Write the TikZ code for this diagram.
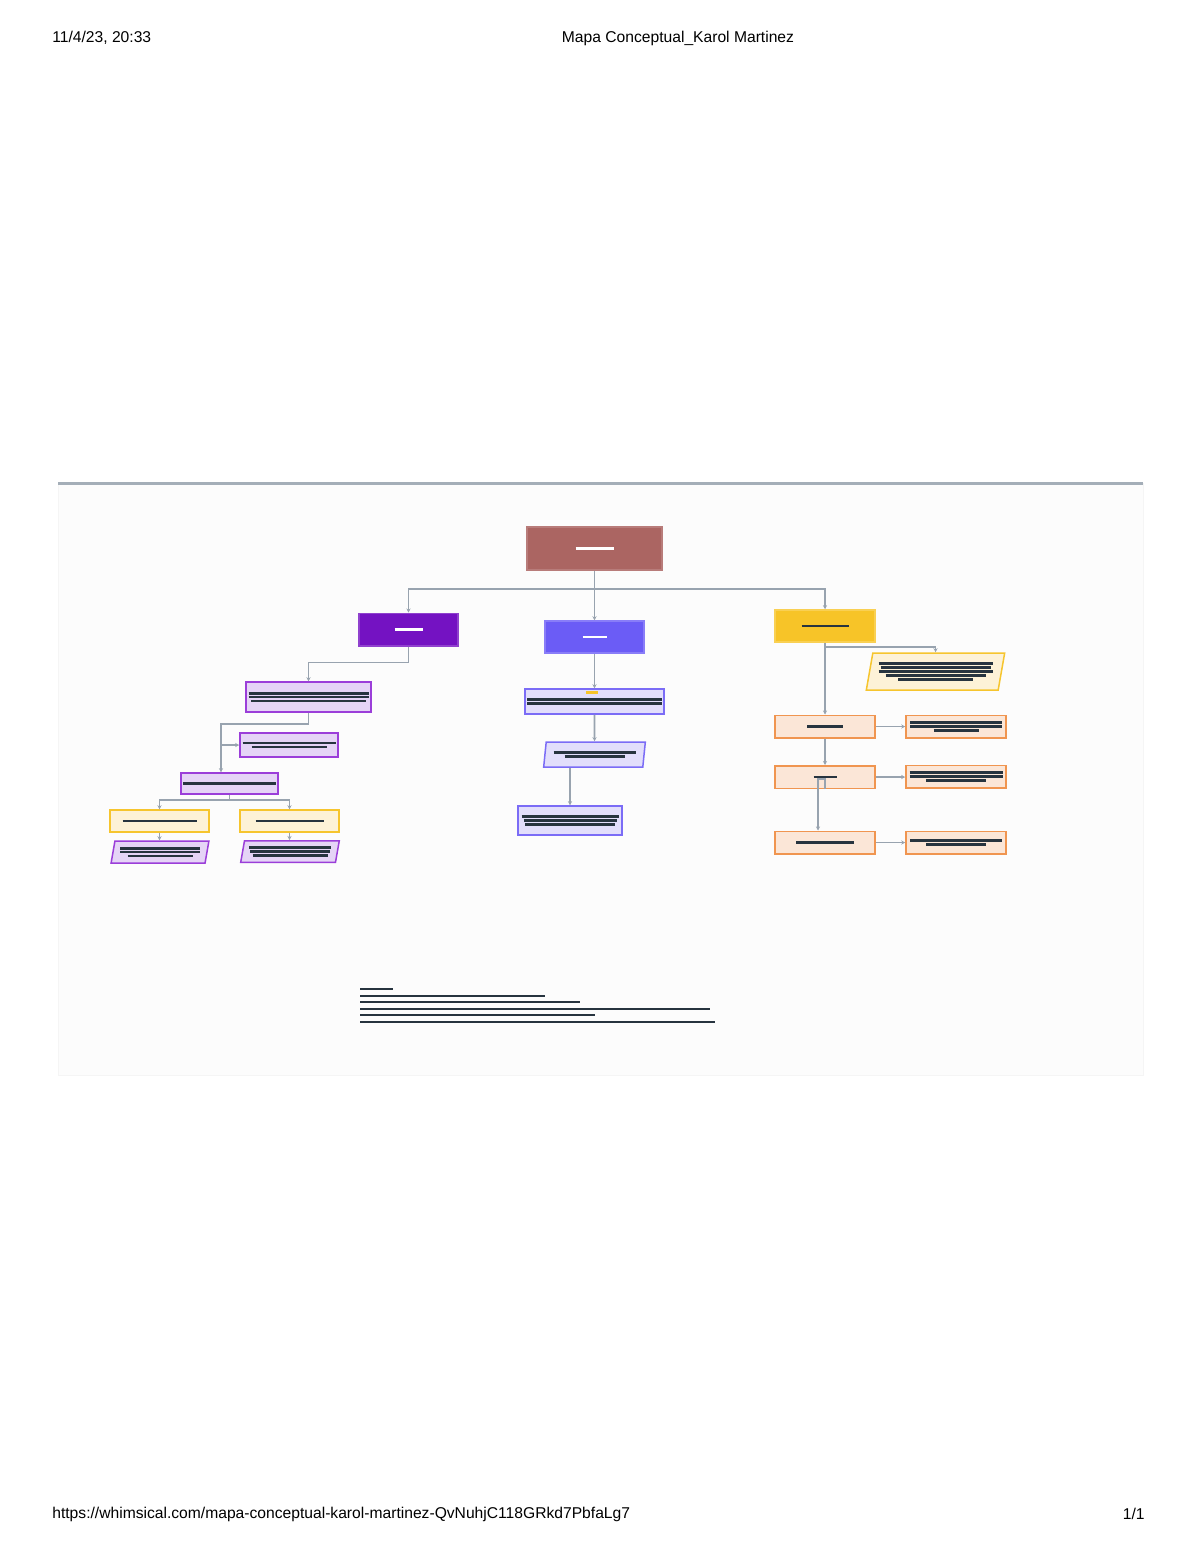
\documentclass[tikz,border=0pt]{standalone}
\usepackage{fontspec}
\setmainfont{Liberation Sans}
\usetikzlibrary{shapes.geometric,arrows.meta}

\definecolor{rootred}{HTML}{AB6562}
\definecolor{deeppurple}{HTML}{7412C2}
\definecolor{violetblue}{HTML}{6B5CF6}
\definecolor{sunyellow}{HTML}{F7C428}
\definecolor{lilacfill}{HTML}{E5D4F6}
\definecolor{lilacline}{HTML}{9B3ED9}
\definecolor{creamfill}{HTML}{FDF2D7}
\definecolor{creamline}{HTML}{F6C52E}
\definecolor{lavfill}{HTML}{E2DEFB}
\definecolor{lavline}{HTML}{7B6CF6}
\definecolor{peachfill}{HTML}{FBE6D7}
\definecolor{peachline}{HTML}{F09550}
\definecolor{linkgray}{HTML}{98A3AF}
\definecolor{framegray}{HTML}{A4AEB8}
\definecolor{ink}{HTML}{27343F}

% illegible text is drawn as bars
\newcommand{\scrib}[1]{\rule{#1}{0.55mm}}

\begin{document}
\begin{tikzpicture}[x=0.2mm,y=-0.2mm,
    link/.style={draw=linkgray,line width=0.35mm,-{Stealth[length=0.8mm,width=0.8mm]}},
    box/.style={rectangle,draw,line width=0.3mm,inner sep=0pt,align=center,text=ink,
      font=\fontsize{2pt}{2.2pt}\selectfont},
    topbox/.style={box,minimum width=19.8mm,minimum height=6.5mm,text=white},
    lilac/.style={box,fill=lilacfill,draw=lilacline},
    cream/.style={box,fill=creamfill,draw=creamline,minimum width=19.8mm,minimum height=4.4mm},
    lav/.style={box,fill=lavfill,draw=lavline},
    peach/.style={box,fill=peachfill,draw=peachline,minimum width=20mm,minimum height=4.5mm},
    slant/.style={trapezium,trapezium left angle=72,trapezium right angle=108,trapezium stretches=true},
    page/.style={font=\fontsize{8.9pt}{10pt}\selectfont,inner sep=0pt}]
  \useasboundingbox (0,0) rectangle (1200,1553);

  % page header and footer
  \node[page,anchor=west] (date) at (52,38) {11/4/23, 20:33};
  \node[page] (title) at (678,38) {Mapa Conceptual\_Karol Martinez};
  \node[page,anchor=west] (url) at (52,1514) {https://whimsical.com/mapa-conceptual-karol-martinez-QvNuhjC118GRkd7PbfaLg7};
  \node[page,anchor=east] (pageno) at (1145,1514) {1/1};

  % board
  \fill[black!1] (58,483) rectangle (1143,1075);
  \draw[black!4] (58,483) rectangle (1143,1075);
  \draw[framegray,line width=0.6mm] (58,483) -- (1143,483);

  % top level
  \node[box,fill=rootred,draw=rootred!85!white,text=white,minimum width=27mm,minimum height=8.6mm] (root) at (594.5,548.5) {\scrib{7.6mm}};
  \node[topbox,fill=deeppurple,draw=deeppurple!80!white] (n1) at (408.5,629.5) {\scrib{5.6mm}};
  \node[topbox,fill=violetblue,draw=violetblue!80!white,minimum height=6.4mm] (n2) at (594.5,637) {\scrib{4.8mm}};
  \node[topbox,fill=sunyellow,draw=sunyellow!80!white,minimum width=20mm,minimum height=6.4mm,text=ink] (n3) at (825,626) {\scrib{9.4mm}};

  % left branch
  \node[lilac,minimum width=25mm,minimum height=6mm] (l1) at (308.5,697) {\scrib{24mm}\\\scrib{24mm}\\\scrib{23mm}};
  \node[lilac,minimum width=19.6mm,minimum height=4.8mm] (l2) at (289,745) {\scrib{18.6mm}\\\scrib{15mm}};
  \node[lilac,minimum width=19.4mm,minimum height=4.2mm] (l3) at (229.5,783.5) {\scrib{18.6mm}};
  \node[cream] (y1) at (159.5,821) {\rule{14.8mm}{0.35mm}};
  \node[cream] (y2) at (289.5,821) {\rule{13.6mm}{0.35mm}};
  \node[lilac,slant,minimum width=19.6mm,minimum height=4.4mm] (p1) at (160,852) {\scrib{16mm}\\\scrib{16mm}\\\scrib{13mm}};
  \node[lilac,slant,minimum width=19.8mm,minimum height=4.3mm] (p2) at (290,851.5) {\scrib{16.4mm}\\\scrib{16mm}\\\scrib{15mm}};

  % middle branch
  \node[lav,minimum width=27.8mm,minimum height=5mm] (m1) at (594.5,701.5) {\scrib{27mm}\\\scrib{27mm}};
  \node[lav,slant,minimum width=20.4mm,minimum height=5mm] (m2) at (594.5,754.5) {\scrib{16.4mm}\\\scrib{12mm}};
  \node[lav,minimum width=20.8mm,minimum height=5.8mm] (m3) at (570,820.5) {\scrib{19.4mm}\\\scrib{18.6mm}\\\scrib{18mm}};
  \fill[sunyellow] (586,691) rectangle (598,693.5);

  % right branch
  \node[box,slant,fill=creamfill,draw=creamline,minimum width=27.8mm,minimum height=7.4mm] (yp) at (935.5,671.5) {\scrib{22.8mm}\\\scrib{22mm}\\\scrib{22.8mm}\\\scrib{20mm}\\\scrib{15mm}};
  \node[peach] (r1) at (825,726.5) {\scrib{7.2mm}};
  \node[peach] (r2) at (825,777) {\scrib{4.6mm}};
  \node[peach] (r3) at (825,842.5) {\scrib{11.6mm}};
  \node[peach] (s1) at (956,726.5) {\scrib{18.4mm}\\\scrib{18.4mm}\\\scrib{9mm}};
  \node[peach] (s2) at (956,776.5) {\scrib{18.6mm}\\\scrib{18.6mm}\\\scrib{12mm}};
  \node[peach] (s3) at (956,842.5) {\scrib{18.4mm}\\\scrib{12mm}};

  % connectors
  \draw[link] (root.south) -- ++(0,18) -| (n1.north);
  \draw[link] (root.south) -- (n2.north);
  \draw[link] (root.south) -- ++(0,18) -| (n3.north);

  \draw[link] (n1.south) -- ++(0,16) -| (l1.north);
  \coordinate (lj) at (221,724);
  \draw[link] (l1.south) |- (lj) -- (lj |- l3.north);
  \draw[link] (lj |- l2.west) -- (l2.west);
  \draw[link] (l3.south) -- ++(0,5) -| (y1.north);
  \draw[link] (l3.south) -- ++(0,5) -| (y2.north);
  \draw[link] (y1.south) -- (y1.south |- p1.north);
  \draw[link] (y2.south) -- (y2.south |- p2.north);

  \draw[link] (n2.south) -- (m1.north);
  \draw[link] (m1.south) -- (m2.north);
  \draw[link] (m2.south -| m3.north) -- (m3.north);

  \draw[link] (n3.south) -- (r1.north);
  \draw[link] (n3.south) ++(0,4) -| (yp.north);
  \draw[link] (r1.east) -- (r1.east -| s1.west);
  \draw[link] (r1.south) -- (r2.north);
  \draw[link] (r2.east) -- (r2.east -| s2.west);
  \coordinate (hook) at (818,779);
  \draw[link] (r2.south) |- (hook) -- (hook |- r3.north);
  \draw[link] (r3.east) -- (r3.east -| s3.west);

  % notes below the map
  \foreach \yy/\xx in {989/393,996/545,1002/580,1009/710,1015/595,1022/715}
    \fill[ink] (360,\yy-1.2) rectangle (\xx,\yy+1.2);
\end{tikzpicture}
\end{document}
